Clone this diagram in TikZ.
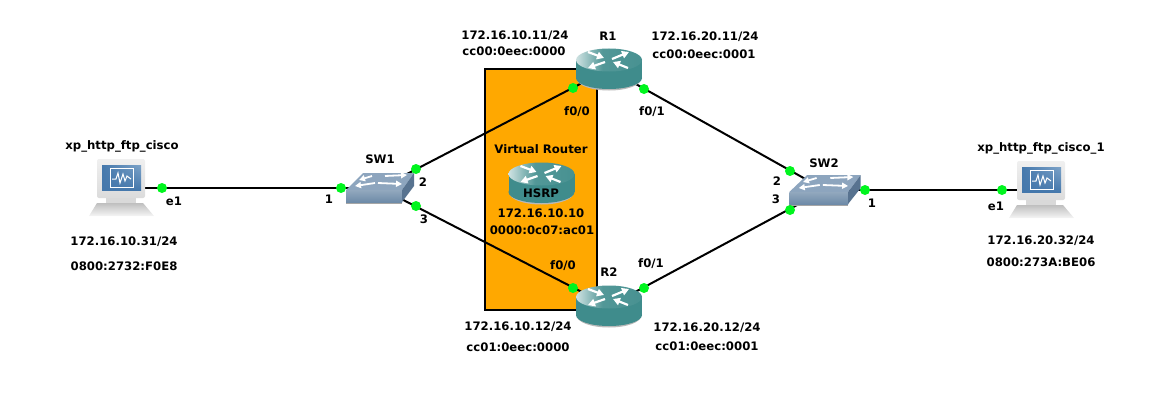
\documentclass[tikz,border=0pt]{standalone}
\usepackage{fontspec}
\setmainfont{DejaVu Sans}
\usetikzlibrary{arrows.meta,shadings}
\definecolor{rtteal}{HTML}{3F8C8C}
\definecolor{swfront}{HTML}{6E8BA8}
\definecolor{swtop}{HTML}{8DA5BE}
\definecolor{swside}{HTML}{587390}
\definecolor{vrorange}{HTML}{FFA800}
\definecolor{portgreen}{HTML}{00F51E}
\definecolor{pcblue}{HTML}{4578AC}
\definecolor{pcbluelt}{HTML}{7DA3C8}
\pgfdeclarehorizontalshading{rttop}{100bp}{color(0bp)=(rtteal!25!white); color(25bp)=(rtteal!25!white); color(45bp)=(rtteal!90!white); color(100bp)=(rtteal)}
\tikzset{%
lbl/.style={font=\fontsize{11.7}{14}\selectfont\bfseries, inner sep=0pt, anchor=center},
port/.style={circle, fill=portgreen, minimum size=10pt, inner sep=0pt},
link/.style={draw=black, line width=2pt},
devbox/.style={inner sep=0pt, outer sep=0pt, minimum width=66pt, minimum height=42pt},
rtarrow/.style={white, line width=2.2pt, -{Triangle[length=7pt,width=7.5pt]}},
swarrow/.style={white, line width=1.8pt, -{Triangle[length=6pt,width=6pt]}},
router/.pic={
    \fill[gray!55] (0,10) ellipse [x radius=32pt, y radius=11.5pt];
    \fill[rtteal] (0,9) ellipse [x radius=33pt, y radius=11pt];
    \fill[rtteal] (-33,-9) rectangle (33,9);
    \shade[shading=rttop] (0,-9) ellipse [x radius=33pt, y radius=11.5pt];
    \draw[rtarrow] (-21,-17) -- (-5,-11);
    \draw[rtarrow] (3,-10) -- (20,-17);
    \draw[rtarrow] (-4,-7) -- (-21,-1);
    \draw[rtarrow] (19,-1) -- (4,-7);
},
switch/.pic={
    \fill[gray!70] (-34,4) -- (22,4) -- (22,16) -- (-34,16) -- cycle;
    \fill[swtop] (-34,2) -- (-17,-15) -- (34,-15) -- (22,2) -- cycle;
    \shade[top color=swfront!75!white, bottom color=swfront] (-34,2) rectangle (22,14);
    \fill[swside] (22,2) -- (34,-15) -- (34,-2) -- (22,14) -- cycle;
    \draw[swarrow] (-8,-12) -- (-21,-8);
    \draw[swarrow] (5,-12) -- (27,-13);
    \draw[swarrow] (-5,-5) -- (-25,-2);
    \draw[swarrow] (-2,-5) -- (22,-4);
},
pc/.pic={
    \shade[top color=gray!50, bottom color=gray!8] (-24,15) -- (22,15) -- (33,28) -- (-32,28) -- cycle;
    \fill[gray!30] (-15,10) rectangle (15,15);
    \shade[top color=gray!12, bottom color=gray!28, rounded corners=2pt] (-24,-29) rectangle (24,10);
    \shade[lower left=pcblue, upper right=pcbluelt, upper left=pcblue, lower right=pcblue]
        (-19,-23) rectangle (20,2);
    \draw[white, line width=1pt] (-11,-20) rectangle (12,-1);
    \draw[white, line width=1pt] (-9,-9) -- (-5,-9) -- (-3,-15) -- (-1,-5) -- (2,-14) -- (4,-7) -- (6,-12) -- (10,-9);
}
}

\begin{document}
\begin{tikzpicture}[x=1pt, y=-1pt]
\useasboundingbox (0,0) rectangle (1161,404);

\node[draw=black, line width=2pt, fill=vrorange, minimum width=112pt, minimum height=241pt, inner sep=0pt] (vr) at (541,189.5) {};

\node[devbox, minimum width=48pt, minimum height=40pt] (PC1) at (121,188) {};
\node[devbox, minimum width=68pt, minimum height=30pt] (SW1) at (380,188) {};
\node[devbox] (R1) at (609,69) {};
\node[devbox] (R2) at (609,306) {};
\node[devbox] (HSRP) at (541.5,183) {};
\node[devbox, minimum width=72pt, minimum height=30pt] (SW2) at (825,190) {};
\node[devbox, minimum width=48pt, minimum height=40pt] (PC2) at (1041,190) {};

\draw[link] (PC1.center) -- (SW1.center);
\draw[link] (SW1.center) -- (R1.center);
\draw[link] (SW1.center) -- (R2.center);
\draw[link] (R1.center) -- (SW2.center);
\draw[link] (R2.center) -- (SW2.center);
\draw[link] (SW2.center) -- (PC2.center);

\pic at (PC1) {pc};
\pic at (SW1) {switch};
\pic at (R1) {router};
\pic at (R2) {router};
\pic at (HSRP) {router};
\pic[xscale=1.05] at (SW2) {switch};
\pic at (PC2) {pc};

\foreach \pname/\px/\py in {pc1e/162/188, sw1a/341/188, sw1b/416/169, sw1c/416/206,
    r1a/573/88, r1b/644/89, r2a/573/288, r2b/644/288,
    sw2b/790/171, sw2c/790/210, sw2a/865/190, pc2e/1002/190}
  \node[port] (\pname) at (\px,\py) {};

\node[lbl] (pc1name) at (122,146) {xp\_http\_ftp\_cisco};
\node[lbl] (pc1if) at (174,201) {e1};
\node[lbl] (pc1ip) at (124,242) {172.16.10.31/24};
\node[lbl] (pc1mac) at (124,266) {0800:2732:F0E8};

\node[lbl] (sw1name) at (380,159) {SW1};
\node[lbl] (sw1la) at (329,199) {1};
\node[lbl] (sw1lb) at (423,182) {2};
\node[lbl] (sw1lc) at (424,219) {3};

\node[lbl] (r1name) at (608,36) {R1};
\node[lbl] (r1ipa) at (515,36) {172.16.10.11/24};
\node[lbl] (r1maca) at (514,51) {cc00:0eec:0000};
\node[lbl] (r1ipb) at (705,37) {172.16.20.11/24};
\node[lbl] (r1macb) at (704,54) {cc00:0eec:0001};
\node[lbl] (r1la) at (577,112) {f0/0};
\node[lbl] (r1lb) at (652,112) {f0/1};

\node[lbl] (vrname) at (541,149) {Virtual Router};
\node[lbl] (hsrpname) at (541,193) {HSRP};
\node[lbl] (vrip) at (541,213) {172.16.10.10};
\node[lbl] (vrmac) at (542,230) {0000:0c07:ac01};

\node[lbl] (r2name) at (609,272) {R2};
\node[lbl] (r2la) at (563,266) {f0/0};
\node[lbl] (r2lb) at (651,264) {f0/1};
\node[lbl] (r2ipa) at (518,327) {172.16.10.12/24};
\node[lbl] (r2maca) at (518,347) {cc01:0eec:0000};
\node[lbl] (r2ipb) at (707,328) {172.16.20.12/24};
\node[lbl] (r2macb) at (707,346) {cc01:0eec:0001};

\node[lbl] (sw2name) at (824,163) {SW2};
\node[lbl] (sw2lb) at (777,181) {2};
\node[lbl] (sw2lc) at (776,199) {3};
\node[lbl] (sw2la) at (872,203) {1};

\node[lbl] (pc2name) at (1041,148) {xp\_http\_ftp\_cisco\_1};
\node[lbl] (pc2if) at (996,206) {e1};
\node[lbl] (pc2ip) at (1041,241) {172.16.20.32/24};
\node[lbl] (pc2mac) at (1041,262) {0800:273A:BE06};
\end{tikzpicture}
\end{document}
